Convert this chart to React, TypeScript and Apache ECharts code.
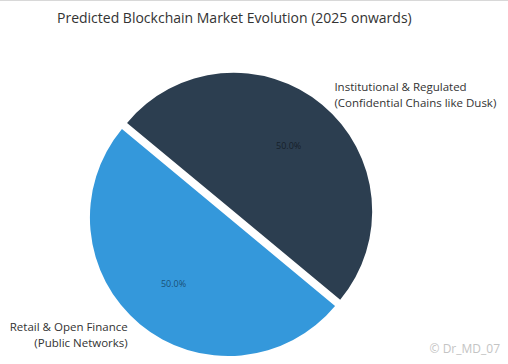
import React, { useEffect, useRef } from 'react';
import * as echarts from 'echarts';

const titleText = 'Predicted Blockchain Market Evolution (2025 onwards)';
const categories = [
  'Institutional & Regulated\n(Confidential Chains like Dusk)',
  'Retail & Open Finance\n(Public Networks)',
];
const values = [50, 50];
const colors = ['#2c3e50', '#3498db'];
const explodedIndex = 0;
const watermark = '© Dr_MD_07';

export default function App() {
  const ref = useRef<HTMLDivElement>(null);
  useEffect(() => {
    const chart = echarts.init(ref.current!, null, { renderer: 'svg' });
    const total = values.reduce((a, b) => a + b, 0);
    const center = [228.5, 217.5];
    const R = 138.5;
    const mkData = (transparent: boolean) =>
      categories.map((name, i) => ({
        name,
        value: values[i],
        selected: i === explodedIndex,
        itemStyle: { color: transparent ? 'rgba(0,0,0,0)' : colors[i] },
      }));
    chart.setOption({
      animation: false,
      backgroundColor: '#ffffff',
      title: {
        text: titleText,
        left: 52,
        top: 5,
        textStyle: { fontFamily: 'Open Sans', fontSize: 14, fontWeight: 'normal', color: '#333333' },
      },
      graphic: [
        { type: 'rect', left: 0, top: 0, shape: { width: 508, height: 1 }, style: { fill: '#d8d8d8' } },
        {
          type: 'text',
          right: 8,
          bottom: 10,
          style: { text: watermark, fontFamily: 'Open Sans', fontSize: 12, fill: '#c4c4c4' },
        },
      ],
      series: [
        {
          type: 'pie',
          center,
          radius: R,
          startAngle: 140.3,
          clockwise: true,
          selectedMode: 'single',
          selectedOffset: 8,
          avoidLabelOverlap: false,
          silent: true,
          emphasis: { disabled: true },
          label: {
            show: true,
            position: 'outside',
            alignTo: 'none',
            bleedMargin: 0,
            overflow: 'none',
            distanceToLabelLine: 4,
            fontFamily: 'Open Sans',
            fontSize: 11.5,
            lineHeight: 16,
            color: '#333333',
          },
          labelLine: { show: false, length: 13, length2: 0 },
          data: mkData(false),
        },
        {
          type: 'pie',
          center,
          radius: [R * 0.2, R],
          startAngle: 140.3,
          clockwise: true,
          selectedMode: 'single',
          selectedOffset: 8,
          avoidLabelOverlap: false,
          silent: true,
          emphasis: { disabled: true },
          label: {
            show: true,
            position: 'inside',
            fontFamily: 'Open Sans',
            fontSize: 9,
            color: 'rgba(0,0,0,0.5)',
            formatter: (p: any) => ((values[p.dataIndex] / total) * 100).toFixed(1) + '%',
          },
          labelLine: { show: false },
          data: mkData(true),
        },
      ],
    });
    return () => chart.dispose();
  }, []);
  return <div ref={ref} style={{ position: 'fixed', left: 0, top: 0, width: 508, height: 364 }} />;
}
